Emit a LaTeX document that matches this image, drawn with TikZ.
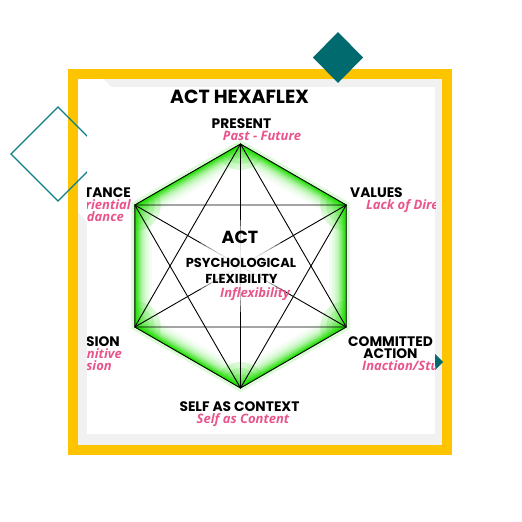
\documentclass[tikz,border=0pt]{standalone}
\usepackage{fontspec}
\newfontfamily\hdfont{Poppins}
\newfontfamily\osfont{Open Sans}
\definecolor{frameyellow}{RGB}{255,196,0}
\definecolor{teal1}{RGB}{0,106,110}
\definecolor{teal2}{RGB}{10,128,134}
\definecolor{bandgrey}{RGB}{241,241,241}
\definecolor{pinktxt}{RGB}{233,84,140}
\definecolor{glowgreen}{RGB}{30,222,0}
\tikzset{
  hd/.style={font=\hdfont\bfseries\fontsize{#1}{#1}\selectfont, inner sep=0pt, text=black},
  pk/.style={font=\osfont\bfseries\itshape\fontsize{#1}{#1}\selectfont, inner sep=0pt, text=pinktxt},
  web/.style={line width=0.9pt, black},
}
\begin{document}
\begin{tikzpicture}[x=1pt,y=-1pt]
\useasboundingbox (0,0) rectangle (522,522);
\fill[white] (0,0) rectangle (522,522);
% frame
\fill[frameyellow] (68,69) rectangle (452,455);
\fill[bandgrey] (78,79) rectangle (442,445);
\fill[white] (78,79) -- (103,79) -- (111,87) -- (87,87) -- (87,222) -- (78,212) -- cycle;
% outline diamond (left)
\draw[teal2, line width=1.3pt] (58,107) -- (105,154) -- (58,201) -- (11,154) -- cycle;
% small right diamond
\fill[teal1] (430,349) -- (443,362) -- (430,375) -- (417,362) -- cycle;
% image
\fill[white] (87,87) rectangle (435,434);
\begin{scope}
\clip (87,87) rectangle (435,434);
% hexagon coordinates
\coordinate (T) at (240.5,144);
\coordinate (UR) at (346.2,205);
\coordinate (LR) at (346.2,327);
\coordinate (B) at (240.5,388);
\coordinate (LL) at (134.8,327);
\coordinate (UL) at (134.8,205);
\coordinate (C) at (240.5,266);
% outer faint glow
\draw[glowgreen!15, line width=7pt, line join=miter] (T) -- (UR) -- (LR) -- (B) -- (LL) -- (UL) -- cycle;
\begin{scope}
\clip (T) -- (UR) -- (LR) -- (B) -- (LL) -- (UL) -- cycle;
\foreach \w/\c in {34/5, 28/11, 23/19, 19/28, 15/40, 11.5/54, 8.5/68, 5.5/84, 2.5/100}{
  \draw[glowgreen!\c!white, line width=\w pt, line join=miter] (T) -- (UR) -- (LR) -- (B) -- (LL) -- (UL) -- cycle;
}
\foreach \v in {T,UR,LR,B,LL,UL}{
  \foreach \r in {26,20,14,8}{
    \fill[glowgreen, opacity=0.16] (\v) circle (\r);
  }
}
\end{scope}
% web lines
\draw[web, line join=miter] (T) -- (UR) -- (LR) -- (B) -- (LL) -- (UL) -- cycle;
\draw[web] (T) -- (LL) -- (LR) -- cycle;
\draw[web] (B) -- (UL) -- (UR) -- cycle;
\draw[web] (T) -- (B);
\draw[web] (UL) -- (LR);
\draw[web] (UR) -- (LL);
% central white glow
\foreach \r in {46,40,34,28,22,16}{
  \fill[white, opacity=0.35] (C) circle (\r);
}
% texts
\node[hd=19, anchor=base] (title) at (239.5,103) {ACT HEXAFLEX};
\node[hd=13.8, anchor=base] (present) at (241.5,128) {PRESENT};
\node[pk=13, anchor=base] (pastfuture) at (262,140.5) {Past - Future};
\node[hd=13.8, anchor=base west] (values) at (350,197.5) {VALUES};
\node[pk=13, anchor=base west] (lackdir) at (366,209.5) {Lack of Direction};
\node[hd=13.8, anchor=base east] (accept) at (131,197.5) {ACCEPTANCE};
\node[pk=13, anchor=base east] (exper) at (131,209) {Experiential};
\node[pk=13, anchor=base east] (avoid) at (124,221) {Avoidance};
\node[hd=13.8, anchor=base east] (defusion) at (120,346.5) {DEFUSION};
\node[pk=13, anchor=base east] (cogn) at (122,358) {Cognitive};
\node[pk=13, anchor=base east] (fusion) at (112,370.5) {Fusion};
\node[hd=13.8, anchor=base] (committed) at (390.5,346.5) {COMMITTED};
\node[hd=13.8, anchor=base] (action) at (390.5,358.5) {ACTION};
\node[pk=13, anchor=base west] (inaction) at (362,370.5) {Inaction/Stuckness};
\node[hd=13.8, anchor=base] (selfctx) at (239.5,411.5) {SELF AS CONTEXT};
\node[pk=13, anchor=base] (selfcnt) at (243,423.5) {Self as Content};
\node[hd=17.5, anchor=base] (act) at (240,243.3) {ACT};
\node[hd=13, anchor=base] (psych) at (241,267.5) {PSYCHOLOGICAL};
\node[hd=13, anchor=base] (flex) at (241.5,283.3) {FLEXIBILITY};
\node[pk=13, anchor=base] (inflex) at (255,297) {Inflexibility};
\end{scope}
% top filled diamond
\fill[teal1] (338,32) -- (363,57.5) -- (338,83) -- (313,57.5) -- cycle;
\end{tikzpicture}
\end{document}
